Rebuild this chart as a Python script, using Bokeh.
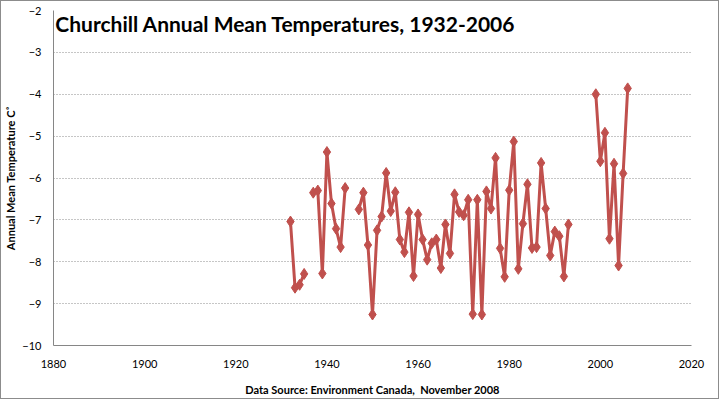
import math
from bokeh.plotting import figure
from bokeh.models import Label, FixedTicker
from bokeh.embed import file_html
from bokeh.resources import INLINE

years = [1932, 1933, 1934, 1935,
         1937, 1938, 1939, 1940, 1941, 1942, 1943, 1944,
         1947, 1948, 1949, 1950, 1951, 1952, 1953, 1954, 1955, 1956,
         1957, 1958, 1959, 1960, 1961, 1962, 1963, 1964, 1965, 1966,
         1967, 1968, 1969, 1970, 1971, 1972, 1973, 1974, 1975, 1976,
         1977, 1978, 1979, 1980, 1981, 1982, 1983, 1984, 1985, 1986,
         1987, 1988, 1989, 1990, 1991, 1992, 1993,
         1999, 2000, 2001, 2002, 2003, 2004, 2005, 2006]
temps = [-7.04, -8.62, -8.55, -8.29,
         -6.35, -6.30, -8.28, -5.38, -6.61, -7.21, -7.65, -6.24,
         -6.75, -6.35, -7.60, -9.26, -7.25, -6.92, -5.88, -6.79, -6.34, -7.47,
         -7.77, -6.82, -8.34, -6.87, -7.47, -7.95, -7.56, -7.47, -8.15, -7.11,
         -7.80, -6.39, -6.81, -6.89, -6.52, -9.25, -6.52, -9.26, -6.32, -6.73,
         -5.52, -7.68, -8.36, -6.29, -5.13, -8.17, -7.09, -6.15, -7.67, -7.65,
         -5.64, -6.73, -7.85, -7.28, -7.39, -8.35, -7.11,
         -4.00, -5.60, -4.92, -7.45, -5.66, -8.09, -5.89, -3.86]

x_ticks = [1880, 1900, 1920, 1940, 1960, 1980, 2000, 2020]
y_ticks = [-10, -9, -8, -7, -6, -5, -4, -3, -2]

title_text = "Churchill Annual Mean Temperatures, 1932-2006"
x_title = "Data Source: Environment Canada, \u00a0November 2008"
y_title = "Annual Mean Temperature C\u02da"

# line with breaks where years are missing
lx, ly = [], []
for i, (yr, t) in enumerate(zip(years, temps)):
    if i > 0 and yr - years[i - 1] > 1:
        lx.append(float("nan"))
        ly.append(float("nan"))
    lx.append(yr)
    ly.append(t)

RED = "#C0504D"
FONT = "Lato"

p = figure(width=719, height=399, output_backend="svg", toolbar_location=None,
           x_range=(1880, 2020), y_range=(-10, -2),
           min_border_left=10, min_border_right=29, min_border_top=9,
           min_border_bottom=55)
p.styles = {"border": "1px solid #8c8c8c"}

p.line(lx, ly, line_color=RED, line_width=3)
p.scatter(years, temps, marker="diamond", size=11, fill_color=RED, line_color=RED)

p.xaxis.ticker = FixedTicker(ticks=x_ticks)
p.yaxis.ticker = FixedTicker(ticks=y_ticks)
for ax in (p.xaxis, p.yaxis):
    ax.axis_line_color = "#868686"
    ax.major_tick_line_color = None
    ax.minor_tick_line_color = None
    ax.major_tick_in = 0
    ax.major_tick_out = 0
    ax.major_label_text_font = FONT
    ax.major_label_text_font_size = "11px"
    ax.major_label_text_color = "#000000"
    ax.axis_label_text_font = FONT
    ax.axis_label_text_font_size = "11px"
    ax.axis_label_text_font_style = "bold"
    ax.axis_label_text_color = "#000000"
p.xaxis.axis_label = x_title
p.yaxis.axis_label = y_title
p.xaxis.major_label_standoff = 14
p.yaxis.major_label_standoff = 12
p.xaxis.axis_label_standoff = 12
p.yaxis.axis_label_standoff = 2

p.xgrid.grid_line_color = None
p.ygrid.grid_line_color = "#8c8c8c"
p.ygrid.grid_line_dash = "1 2"
p.ygrid.grid_line_width = 1
p.outline_line_color = None

p.add_layout(Label(x=1880.4, y=-2.02, text=title_text, text_font=FONT,
                   text_font_style="bold", text_font_size="21px",
                   text_baseline="top", text_color="#000000"))

open("out.html", "w").write(file_html(p, INLINE))
